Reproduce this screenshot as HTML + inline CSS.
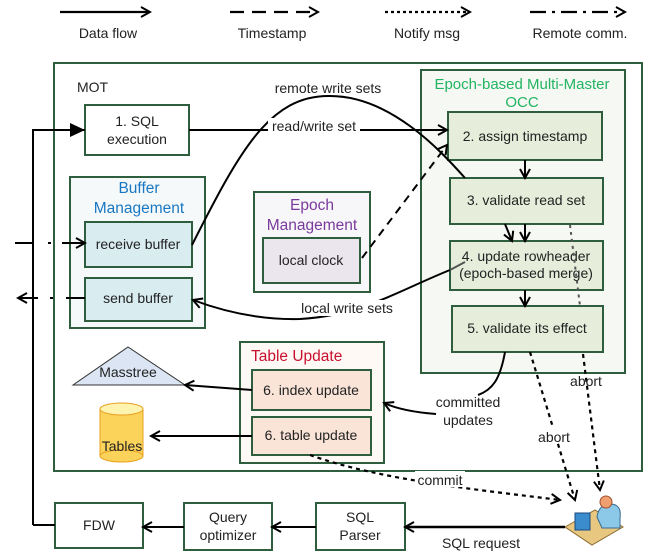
<!DOCTYPE html>
<html><head><meta charset="utf-8"><style>
html,body{margin:0;padding:0;background:#fff}
svg{display:block}
text{font-family:"Liberation Sans",Arial,sans-serif;font-size:14px;fill:#222}
</style></head><body>
<svg width="657" height="558" viewBox="0 0 657 558" xmlns="http://www.w3.org/2000/svg">
<defs>
<marker id="a" markerWidth="12" markerHeight="12" refX="10" refY="6" orient="auto" markerUnits="userSpaceOnUse"><path d="M1,1 L10,6 L1,11" fill="none" stroke="#000" stroke-width="2"/></marker>
<marker id="f" markerWidth="16" markerHeight="14" refX="15" refY="7" orient="auto" markerUnits="userSpaceOnUse"><path d="M0,0 L15,7 L0,14 Z" fill="#000"/></marker>
</defs>
<g stroke="#000" stroke-width="2.2" fill="none">
<line x1="60" y1="12" x2="150" y2="12" marker-end="url(#a)"/>
<line x1="230" y1="12" x2="318" y2="12" stroke-dasharray="14,8" marker-end="url(#a)"/>
<line x1="385" y1="12" x2="470" y2="12" stroke-dasharray="3,3" marker-end="url(#a)"/>
<line x1="530" y1="12" x2="625" y2="12" stroke-dasharray="16,6,3,6" marker-end="url(#a)"/>
</g>
<text x="108" y="38" text-anchor="middle">Data flow</text>
<text x="272" y="38" text-anchor="middle">Timestamp</text>
<text x="427" y="38" text-anchor="middle">Notify msg</text>
<text x="580" y="38" text-anchor="middle">Remote comm.</text>

<rect x="54" y="63" width="588" height="408" fill="#fff" stroke="#2e5e3e" stroke-width="2"/>
<text x="77" y="92">MOT</text>

<rect x="421" y="70" width="204" height="303" fill="#f6f8f3" stroke="#2e5e3e" stroke-width="2"/>
<text x="522" y="89" text-anchor="middle" style="fill:#22b462;font-size:15px">Epoch-based Multi-Master</text>
<text x="522" y="107" text-anchor="middle" style="fill:#22b462;font-size:15px">OCC</text>
<g fill="#e6eedb" stroke="#2e5e3e" stroke-width="2">
<rect x="448" y="112" width="154" height="48"/>
<rect x="450" y="178" width="153" height="46"/>
<rect x="450" y="241" width="153" height="49"/>
<rect x="452" y="306" width="151" height="46"/>
</g>
<text x="525" y="141" text-anchor="middle">2. assign timestamp</text>
<text x="526" y="205" text-anchor="middle">3. validate read set</text>
<text x="526" y="261" text-anchor="middle">4. update rowheader</text>
<text x="526" y="278" text-anchor="middle">(epoch-based merge)</text>
<text x="527" y="333" text-anchor="middle">5. validate its effect</text>

<rect x="85" y="105" width="104" height="50" fill="#fff" stroke="#2e5e3e" stroke-width="2"/>
<text x="137" y="126" text-anchor="middle">1. SQL</text>
<text x="137" y="144" text-anchor="middle">execution</text>

<rect x="70" y="177" width="135" height="151" fill="#f5f9fa" stroke="#2e5e3e" stroke-width="2"/>
<text x="139" y="193" text-anchor="middle" style="fill:#1a78c2;font-size:15.5px">Buffer</text>
<text x="139" y="213" text-anchor="middle" style="fill:#1a78c2;font-size:15.5px">Management</text>
<rect x="85" y="222" width="107" height="45" fill="#d9ecf0" stroke="#2e5e3e" stroke-width="2"/>
<text x="138" y="249" text-anchor="middle">receive buffer</text>
<rect x="85" y="278" width="107" height="43" fill="#d9ecf0" stroke="#2e5e3e" stroke-width="2"/>
<text x="138" y="303" text-anchor="middle">send buffer</text>

<rect x="254" y="192" width="116" height="100" fill="#f7f7f9" stroke="#2e5e3e" stroke-width="2"/>
<text x="312" y="210" text-anchor="middle" style="fill:#7a3a9c;font-size:15.5px">Epoch</text>
<text x="312" y="230" text-anchor="middle" style="fill:#7a3a9c;font-size:15.5px">Management</text>
<rect x="263" y="238" width="97" height="45" fill="#ebe6ee" stroke="#2e5e3e" stroke-width="2"/>
<text x="311" y="265" text-anchor="middle">local clock</text>

<rect x="240" y="342" width="144" height="121" fill="#fff9f6" stroke="#2e5e3e" stroke-width="2"/>
<text x="251" y="361" style="fill:#c8102e;font-size:15.5px">Table Update</text>
<rect x="252" y="370" width="119" height="40" fill="#fae4d8" stroke="#2e5e3e" stroke-width="2"/>
<text x="311" y="395" text-anchor="middle">6. index update</text>
<rect x="252" y="417" width="119" height="38" fill="#fae4d8" stroke="#2e5e3e" stroke-width="2"/>
<text x="311" y="440" text-anchor="middle">6. table update</text>

<path d="M73,385 L128,347 L185,385 Z" fill="#dbe5f3" stroke="#333" stroke-width="1"/>
<text x="128" y="377" text-anchor="middle">Masstree</text>
<rect x="100" y="409" width="43" height="47" fill="#fcd35a" stroke="#e8a020"/>
<ellipse cx="121.5" cy="456" rx="21.5" ry="6" fill="#fcd35a" stroke="#e8a020"/>
<ellipse cx="121.5" cy="409" rx="21.5" ry="6" fill="#fff3b0" stroke="#e8a020"/>
<text x="122" y="451" text-anchor="middle">Tables</text>

<g fill="#fff" stroke="#2e5e3e" stroke-width="2">
<rect x="55" y="503" width="88" height="45"/>
<rect x="184" y="503" width="88" height="47"/>
<rect x="316" y="503" width="89" height="47"/>
</g>
<text x="99" y="530" text-anchor="middle">FDW</text>
<text x="228" y="522" text-anchor="middle">Query</text>
<text x="228" y="540" text-anchor="middle">optimizer</text>
<text x="360" y="522" text-anchor="middle">SQL</text>
<text x="360" y="540" text-anchor="middle">Parser</text>

<path d="M565,527 L595,510 L623,527 L592,545 Z" fill="#e8c880" stroke="#8a6a30"/>
<rect x="575" y="513" width="15" height="17" fill="#3a8ccc" stroke="#1a4a80"/>
<path d="M597,517 q2,-13 13,-13 q12,0 10,14 l0,10 l-18,0 Z" fill="#8cc8e8" stroke="#3a6a90"/>
<circle cx="606" cy="502" r="6" fill="#f0a070" stroke="#a05030"/>

<g stroke="#000" stroke-width="2" fill="none">
<path d="M33,525 L33,130 L85,130" marker-end="url(#f)"/>
<line x1="55" y1="525" x2="33" y2="525"/>
<line x1="189" y1="130" x2="447" y2="130" marker-end="url(#a)"/>
<path d="M15,243 L32,243 M48,243 L51,243 M62,243 L85,243" marker-end="url(#a)"/>
<path d="M85,298 L66,298 M53,298 L50,298 M38,298 L18,298" marker-end="url(#a)"/>
<path d="M192,245 C240,150 270,95 330,96 C390,96 440,150 465,178"/>
<path d="M450,270 C400,290 360,316 300,319 C260,320 225,312 193,300" marker-end="url(#a)"/>
<path d="M362,258 L447,145" stroke-dasharray="8,6" marker-end="url(#a)"/>
<line x1="525" y1="160" x2="525" y2="178" marker-end="url(#a)"/>
<line x1="525" y1="224" x2="525" y2="241" marker-end="url(#a)"/>
<line x1="505" y1="224" x2="512" y2="241" marker-end="url(#a)"/>
<line x1="525" y1="290" x2="525" y2="306" marker-end="url(#a)"/>
<path d="M505,352 C500,380 492,390 478,395"/>
<path d="M436,414 C410,412 395,408 384,403" marker-end="url(#a)"/>
<line x1="252" y1="390" x2="185" y2="385" marker-end="url(#a)"/>
<line x1="252" y1="436" x2="151" y2="436" marker-end="url(#a)"/>
<line x1="565" y1="527" x2="405" y2="527" stroke-width="2.5" marker-end="url(#a)"/>
<line x1="316" y1="527" x2="272" y2="527" marker-end="url(#a)"/>
<line x1="184" y1="527" x2="143" y2="527" marker-end="url(#a)"/>
</g>
<g stroke="#000" stroke-width="2.2" fill="none" stroke-dasharray="4,4">
<path d="M530,352 L575,500" marker-end="url(#a)"/>
<path d="M583,354 L600,490" marker-end="url(#a)"/>
<path d="M310,455 C380,480 480,490 560,500" marker-end="url(#a)"/>
</g>
<line x1="570" y1="225" x2="580" y2="306" stroke="#555" stroke-width="2" stroke-dasharray="3,4"/>
<line x1="450" y1="270" x2="465" y2="262" stroke="#555" stroke-width="2"/>

<rect x="268" y="118" width="92" height="16" fill="#fff"/>
<text x="314" y="131" text-anchor="middle">read/write set</text>
<text x="328" y="93" text-anchor="middle">remote write sets</text>
<rect x="296" y="300" width="102" height="16" fill="#fff"/>
<text x="347" y="313" text-anchor="middle">local write sets</text>
<text x="468" y="407" text-anchor="middle">committed</text>
<text x="468" y="425" text-anchor="middle">updates</text>
<rect x="524" y="428" width="34" height="14" fill="#fff"/>
<text x="554" y="442" text-anchor="middle">abort</text>
<text x="586" y="386" text-anchor="middle">abort</text>
<rect x="415" y="471" width="50" height="16" fill="#fff"/>
<text x="440" y="485" text-anchor="middle">commit</text>
<text x="481" y="548" text-anchor="middle">SQL request</text>
</svg>
</body></html>
